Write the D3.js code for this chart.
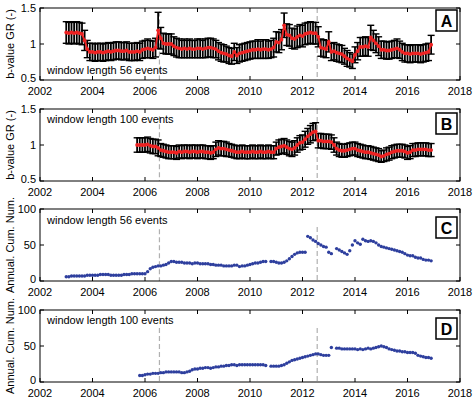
<!DOCTYPE html>
<html><head><meta charset="utf-8">
<script src="https://cdn.jsdelivr.net/npm/d3@7"></script>
<style>body{margin:0;background:#fff}svg{display:block;font-family:"Liberation Sans",Arial,sans-serif}</style>
</head><body><svg id="c" width="474" height="399"></svg>
<script>
const xTicks = [2002,2004,2006,2008,2010,2012,2014,2016,2018];
const bTicks = [0.5,1,1.5];
const cTicks = [0,50,100];
const eventLines = [2006.55, 2012.56];

// Panel A: b-value, window 56 events (start 2003.0, every 0.1 yr)
const yearsA = [2003.0,2003.1,2003.2,2003.3,2003.4,2003.5,2003.6,2003.7,2003.8,2003.9,
2004.0,2004.1,2004.2,2004.3,2004.4,2004.5,2004.6,2004.7,2004.8,2004.9,
2005.0,2005.1,2005.2,2005.3,2005.4,2005.5,2005.6,2005.7,2005.8,2005.9,
2006.0,2006.1,2006.2,2006.3,2006.4,2006.5,2006.6,2006.7,2006.8,2006.9,
2007.0,2007.1,2007.2,2007.3,2007.4,2007.5,2007.6,2007.7,2007.8,2007.9,
2008.0,2008.1,2008.2,2008.3,2008.4,2008.5,2008.6,2008.7,2008.8,2008.9,
2009.0,2009.1,2009.2,2009.3,2009.4,2009.5,2009.6,2009.7,2009.8,2009.9,
2010.0,2010.1,2010.2,2010.3,2010.4,2010.5,2010.6,2010.7,2010.8,2010.9,
2011.0,2011.1,2011.2,2011.3,2011.4,2011.5,2011.6,2011.7,2011.8,2011.9,
2012.0,2012.1,2012.2,2012.3,2012.4,2012.5,2012.6,2012.7,2012.8,2012.9,
2013.0,2013.1,2013.2,2013.3,2013.4,2013.5,2013.6,2013.7,2013.8,2013.9,
2014.0,2014.1,2014.2,2014.3,2014.4,2014.5,2014.6,2014.7,2014.8,2014.9,
2015.0,2015.1,2015.2,2015.3,2015.4,2015.5,2015.6,2015.7,2015.8,2015.9,
2016.0,2016.1,2016.2,2016.3,2016.4,2016.5,2016.6,2016.7,2016.8,2016.9];
const bA = [1.16,1.15,1.16,1.15,1.16,1.15,1.14,1.05,0.93,0.89,
0.89,0.88,0.89,0.89,0.88,0.89,0.90,0.89,0.90,0.91,
0.91,0.90,0.90,0.91,0.89,0.89,0.89,0.90,0.89,0.92,
0.93,0.94,0.93,0.92,0.95,1.19,1.08,1.01,1.00,1.00,
1.00,0.97,0.95,0.94,0.93,0.94,0.93,0.94,0.93,0.93,
0.94,0.94,0.93,0.94,0.95,0.95,0.94,0.93,0.90,0.88,
0.87,0.86,0.84,0.83,0.89,0.84,0.87,0.88,0.89,0.90,
0.91,0.92,0.92,0.93,0.92,0.93,0.93,0.92,0.93,0.95,
1.03,1.02,1.06,1.26,1.13,1.12,1.08,1.07,1.10,1.12,
1.11,1.14,1.15,1.16,1.15,1.15,1.10,0.95,0.94,0.93,
1.03,0.89,0.90,0.88,0.87,0.86,0.83,0.80,0.78,0.76,
0.85,0.90,0.96,0.96,0.97,0.96,1.09,1.05,1.01,0.97,
0.92,0.92,0.91,0.91,0.92,0.93,0.94,0.92,0.89,0.87,
0.87,0.86,0.87,0.87,0.87,0.86,0.87,0.88,0.89,0.99];
const errA = [0.15,0.15,0.15,0.15,0.15,0.15,0.15,0.14,0.12,0.12,
0.12,0.12,0.12,0.12,0.12,0.12,0.12,0.12,0.12,0.12,
0.12,0.12,0.12,0.12,0.12,0.12,0.12,0.12,0.12,0.12,
0.12,0.13,0.12,0.12,0.13,0.25,0.15,0.14,0.14,0.14,
0.14,0.13,0.13,0.13,0.12,0.13,0.12,0.13,0.12,0.12,
0.13,0.13,0.12,0.13,0.13,0.13,0.13,0.12,0.12,0.12,
0.12,0.11,0.11,0.11,0.12,0.11,0.12,0.12,0.12,0.12,
0.12,0.12,0.12,0.13,0.12,0.13,0.13,0.12,0.12,0.13,
0.14,0.14,0.14,0.17,0.15,0.15,0.14,0.14,0.15,0.15,
0.15,0.15,0.15,0.15,0.15,0.15,0.14,0.12,0.12,0.12,
0.14,0.12,0.12,0.12,0.12,0.12,0.11,0.11,0.10,0.10,
0.11,0.12,0.13,0.13,0.13,0.13,0.17,0.14,0.13,0.13,
0.12,0.12,0.12,0.12,0.12,0.12,0.13,0.12,0.12,0.12,
0.12,0.12,0.12,0.12,0.12,0.12,0.12,0.12,0.12,0.13];

// Panel B: b-value, window 100 events
const yearsB = [2005.7,2005.8,2005.9,
2006.0,2006.1,2006.2,2006.3,2006.4,2006.5,2006.6,2006.7,2006.8,2006.9,
2007.0,2007.1,2007.2,2007.3,2007.4,2007.5,2007.6,2007.7,2007.8,2007.9,
2008.0,2008.1,2008.2,2008.3,2008.4,2008.5,2008.6,2008.7,2008.8,2008.9,
2009.0,2009.1,2009.2,2009.3,2009.4,2009.5,2009.6,2009.7,2009.8,2009.9,
2010.0,2010.1,2010.2,2010.3,2010.4,2010.5,2010.6,2010.7,2010.8,2010.9,
2011.0,2011.1,2011.2,2011.3,2011.4,2011.5,2011.6,2011.7,2011.8,2011.9,
2012.0,2012.1,2012.2,2012.3,2012.4,2012.5,2012.6,2012.7,2012.8,2012.9,
2013.0,2013.1,2013.2,2013.3,2013.4,2013.5,2013.6,2013.7,2013.8,2013.9,
2014.0,2014.1,2014.2,2014.3,2014.4,2014.5,2014.6,2014.7,2014.8,2014.9,
2015.0,2015.1,2015.2,2015.3,2015.4,2015.5,2015.6,2015.7,2015.8,2015.9,
2016.0,2016.1,2016.2,2016.3,2016.4,2016.5,2016.6,2016.7,2016.8,2016.9];
const bB = [1.00,1.00,1.00,
1.00,1.01,0.99,0.98,0.98,0.96,0.93,0.92,0.91,0.90,
0.90,0.90,0.89,0.91,0.90,0.91,0.91,0.90,0.91,0.91,
0.90,0.91,0.91,0.90,0.90,0.89,0.90,0.94,0.96,0.95,
0.95,0.94,0.93,0.92,0.91,0.90,0.90,0.91,0.90,0.90,
0.90,0.91,0.90,0.90,0.91,0.90,0.90,0.91,0.90,0.90,
0.95,0.97,0.98,0.99,0.97,0.95,0.94,0.96,1.00,1.03,
1.04,1.08,1.12,1.15,1.18,1.19,1.06,1.06,1.05,1.05,
1.05,1.04,1.00,0.95,0.93,0.92,0.92,0.93,0.94,0.95,
0.95,0.93,0.92,0.91,0.90,0.90,0.89,0.88,0.87,0.86,
0.84,0.85,0.87,0.88,0.90,0.91,0.92,0.92,0.92,0.91,
0.89,0.90,0.93,0.93,0.94,0.94,0.94,0.94,0.93,0.93];
const errB = [0.10,0.10,0.10,
0.10,0.10,0.10,0.10,0.10,0.11,0.09,0.09,0.09,0.09,
0.09,0.09,0.09,0.09,0.09,0.09,0.09,0.09,0.09,0.09,
0.09,0.09,0.09,0.09,0.09,0.09,0.09,0.10,0.10,0.10,
0.10,0.10,0.09,0.09,0.09,0.09,0.09,0.09,0.09,0.09,
0.09,0.09,0.09,0.09,0.09,0.09,0.09,0.09,0.09,0.09,
0.09,0.10,0.10,0.10,0.10,0.10,0.10,0.10,0.10,0.10,
0.10,0.11,0.11,0.12,0.12,0.12,0.10,0.10,0.10,0.10,
0.10,0.10,0.10,0.09,0.09,0.09,0.09,0.09,0.09,0.09,
0.09,0.09,0.09,0.09,0.09,0.09,0.09,0.09,0.09,0.09,
0.08,0.08,0.09,0.09,0.09,0.09,0.09,0.09,0.09,0.09,
0.09,0.09,0.09,0.09,0.09,0.09,0.09,0.09,0.09,0.09];

// Panel C: annual cumulative number, window 56 events
const valsC = [6,6,7,7,7,7,7,7,8,8,
8,8,8,9,9,9,9,8,8,8,
8,8,9,9,9,10,10,10,10,10,
10,13,17,19,20,21,21,22,23,25,
27,27,26,26,26,25,25,25,24,25,
25,24,24,24,24,23,23,22,22,22,
21,21,21,21,22,22,20,21,21,22,
23,24,25,25,26,27,27,null,27,27,
26,25,25,26,28,31,34,37,39,40,
40,40,62,60,57,55,52,50,48,47,
40,38,null,45,43,41,39,37,42,50,
56,53,51,58,56,55,56,55,53,50,
48,47,46,45,44,43,42,41,40,38,
36,35,35,33,32,32,30,29,29,28];

// Panel D: annual cumulative number, window 100 events
const yearsD = [2005.8,2005.9].concat(yearsA.slice(30));
const valsD = [9,9,
10,11,11,12,12,12,13,13,14,14,
14,14,14,14,13,13,14,15,17,18,
18,19,19,20,20,19,20,21,21,22,
22,23,23,24,24,23,24,24,24,24,
24,24,24,24,24,24,23,null,22,22,
22,22,23,24,26,28,30,31,32,33,
34,35,36,37,38,39,39,38,37,37,
37,48,null,47,47,46,46,46,46,46,
46,45,46,45,46,47,46,47,48,49,
50,49,48,46,45,44,43,43,42,42,
41,41,41,40,37,36,35,34,34,33];

const svg = d3.select("#c");
const L = 40, R = 460;
const x = d3.scaleLinear().domain([2002, 2018]).range([L, R]);

const panels = [
  {top: 8, bottom: 80, dom: [0.5, 1.5], ticks: bTicks, ylab: "b-value GR (-)", letter: "A", boxY: 10,
   text: "window length 56 events", textY: 74, lines: [[1.45, 0.5], [1.5, 0.5]],
   type: "err", years: yearsA, vals: bA, errs: errA},
  {top: 109, bottom: 181, dom: [0.5, 1.5], ticks: bTicks, ylab: "b-value GR (-)", letter: "B", boxY: 113,
   text: "window length 100 events", textY: 123, lines: [[1.4, 0.5], [1.5, 0.5]],
   type: "err", years: yearsB, vals: bB, errs: errB},
  {top: 209, bottom: 281, dom: [0, 100], ticks: cTicks, ylab: "Annual. Cum. Num.", letter: "C", boxY: 217,
   text: "window length 56 events", textY: 224, lines: [[72, 0], [75, 0]],
   type: "dot", years: yearsA, vals: valsC},
  {top: 310, bottom: 382, dom: [0, 100], ticks: cTicks, ylab: "Annual. Cum. Num.", letter: "D", boxY: 318,
   text: "window length 100 events", textY: 324, lines: [[75, 0], [75, 0]],
   type: "dot", years: yearsD, vals: valsD}
];

panels.forEach(p => {
  const y = d3.scaleLinear().domain(p.dom).range([p.bottom, p.top]);
  const g = svg.append("g");
  const clipId = "clip" + p.letter;
  svg.append("clipPath").attr("id", clipId).append("rect")
    .attr("x", L).attr("y", p.top).attr("width", R - L).attr("height", p.bottom - p.top);
  const plot = g.append("g").attr("clip-path", `url(#${clipId})`);

  eventLines.forEach((ev, i) => {
    plot.append("line").attr("x1", x(ev)).attr("x2", x(ev))
      .attr("y1", y(p.lines[i][0])).attr("y2", y(p.lines[i][1]))
      .attr("stroke", "#b0b0b0").attr("stroke-width", 1.2).attr("stroke-dasharray", "5,3");
  });

  const data = p.years.map((yr, i) => ({t: yr, v: p.vals[i], e: p.errs ? p.errs[i] : 0}))
    .filter(d => d.v != null);

  if (p.type === "err") {
    const eb = plot.append("g").attr("stroke", "#000");
    data.forEach(d => {
      const cx = x(d.t);
      eb.append("line").attr("x1", cx).attr("x2", cx).attr("y1", y(d.v - d.e)).attr("y2", y(d.v + d.e)).attr("stroke-width", 1.8);
      eb.append("line").attr("x1", cx - 3.5).attr("x2", cx + 3.5).attr("y1", y(d.v + d.e)).attr("y2", y(d.v + d.e)).attr("stroke-width", 1.4);
      eb.append("line").attr("x1", cx - 3.5).attr("x2", cx + 3.5).attr("y1", y(d.v - d.e)).attr("y2", y(d.v - d.e)).attr("stroke-width", 1.4);
    });
    plot.append("path").datum(data)
      .attr("d", d3.line().x(d => x(d.t)).y(d => y(d.v)))
      .attr("fill", "none").attr("stroke", "#ee2222").attr("stroke-width", 1.8);
    plot.append("g").selectAll("circle").data(data).join("circle")
      .attr("cx", d => x(d.t)).attr("cy", d => y(d.v)).attr("r", 1.9).attr("fill", "#ee2222");
  } else {
    plot.append("g").selectAll("circle").data(data).join("circle")
      .attr("cx", d => x(d.t)).attr("cy", d => y(d.v)).attr("r", 1.7).attr("fill", "#2e3f9e");
  }

  g.append("rect").attr("x", L).attr("y", p.top).attr("width", R - L).attr("height", p.bottom - p.top)
    .attr("fill", "none").attr("stroke", "#000").attr("stroke-width", 1);

  xTicks.forEach(t => {
    g.append("line").attr("x1", x(t)).attr("x2", x(t)).attr("y1", p.bottom).attr("y2", p.bottom - 4).attr("stroke", "#000");
    g.append("line").attr("x1", x(t)).attr("x2", x(t)).attr("y1", p.top).attr("y2", p.top + 4).attr("stroke", "#000");
    g.append("text").attr("x", x(t)).attr("y", p.bottom + 15).attr("text-anchor", "middle")
      .attr("font-size", 11).text(t);
  });
  p.ticks.forEach(t => {
    g.append("line").attr("x1", L).attr("x2", L + 4).attr("y1", y(t)).attr("y2", y(t)).attr("stroke", "#000");
    g.append("line").attr("x1", R).attr("x2", R - 4).attr("y1", y(t)).attr("y2", y(t)).attr("stroke", "#000");
    g.append("text").attr("x", L - 4).attr("y", y(t)).attr("dy", t === p.dom[0] ? "0.2em" : "0.35em").attr("text-anchor", "end")
      .attr("font-size", 11).text(t);
  });
  g.append("text").attr("transform", `translate(14,${(p.top + p.bottom) / 2}) rotate(-90)`)
    .attr("text-anchor", "middle").attr("font-size", 11).text(p.ylab);
  g.append("text").attr("x", 47).attr("y", p.textY).attr("font-size", 11).text(p.text);
  g.append("rect").attr("x", 436).attr("y", p.boxY).attr("width", 21).attr("height", 21)
    .attr("fill", "#fff").attr("stroke", "#000").attr("stroke-width", 1.5);
  g.append("text").attr("x", 446.5).attr("y", p.boxY + 16.5).attr("text-anchor", "middle")
    .attr("font-size", 16).attr("font-weight", "bold").text(p.letter);
});
</script></body></html>
